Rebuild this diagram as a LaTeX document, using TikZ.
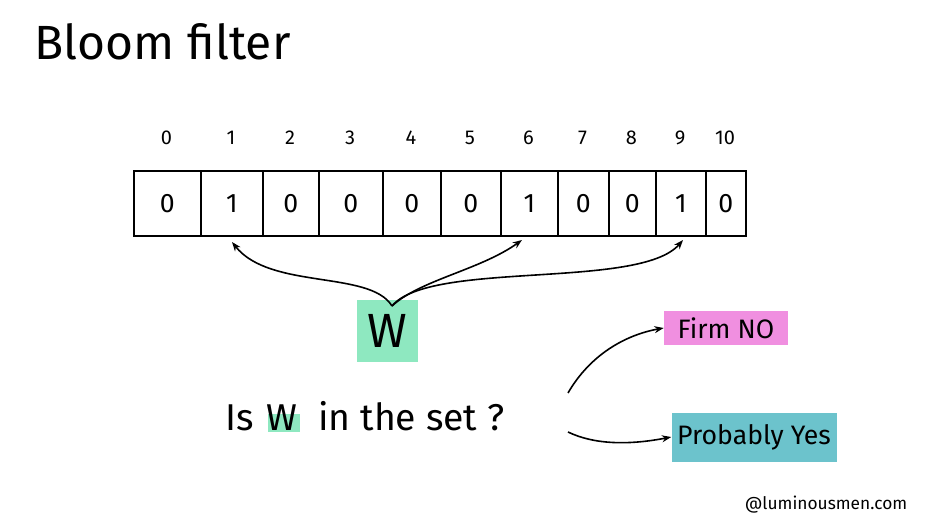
\documentclass[tikz,border=0pt]{standalone}
\usepackage{fontspec}
\setmainfont{Fira Sans}
\usetikzlibrary{arrows.meta}
\definecolor{wgreen}{HTML}{8EE8C0}
\definecolor{pinkc}{HTML}{F08FE0}
\definecolor{tealc}{HTML}{6CC3CC}
\tikzset{
 cell/.style={draw=black,line width=1.3pt,minimum height=48.75pt,inner sep=0pt,anchor=north west,font=\fontsize{20}{22}\selectfont},
 idx/.style={font=\fontsize{15}{17}\selectfont},
 arr/.style={line width=1.2pt,-{Stealth[length=7pt]}},
 qtext/.style={anchor=base west,inner sep=0pt,font=\fontsize{28}{30}\selectfont},
}
\begin{document}
\begin{tikzpicture}[x=0.75pt,y=-0.75pt]
\useasboundingbox (0,0) rectangle (928,527);
\node[anchor=west,font=\fontsize{36}{40}\selectfont] (title) at (30,42) {Bloom filter};
\foreach \l/\r/\v/\i [count=\n from 0] in {133/200/0/0,200/262/1/1,262/318/0/2,318/382/0/3,382/440/0/4,440/500/0/5,500/557/1/6,557/608/0/7,608/655/0/8,655/705/1/9,705/745/0/10}{
  \pgfmathsetmacro{\w}{(\r-\l)*0.75}
  \node[cell,minimum width=\w pt] (c\n) at (\l,170) {\v};
  \node[idx] (i\n) at ({(\l+\r)/2},138) {\i};
}
\node[fill=wgreen,minimum width=45.75pt,minimum height=46.5pt,font=\fontsize{36}{38}\selectfont] (w) at (387,331) {W};
\coordinate (wt) at (392,306);
\draw[arr] (wt) .. controls (370,270) and (270,290) .. (232,242);
\draw[arr] (wt) .. controls (420,280) and (480,270) .. (522,240);
\draw[arr] (wt) .. controls (430,260) and (640,290) .. (683,240);
\fill[wgreen] (268,414) rectangle (300,432);
\node[qtext] (q1t) at (225,430) {Is};
\node[qtext] (qw) at (266,430) {W};
\node[qtext] (q2t) at (318,430) {in the set ?};
\node[fill=pinkc,minimum width=93pt,minimum height=24.75pt,font=\fontsize{20}{22}\selectfont] (no) at (726,328) {Firm NO};
\node[fill=tealc,minimum width=123.75pt,minimum height=36.75pt,font=\fontsize{20}{22}\selectfont] (yes) at (754,437) {Probably Yes};
\coordinate (q1) at (568,393);
\coordinate (q2) at (568,432);
\draw[arr] (q1) .. controls (590,355) and (625,335) .. (no.west);
\draw[arr] (q2) .. controls (595,445) and (630,445) .. (yes.west);
\node[font=\fontsize{13}{15}\selectfont] (cr) at (826,505) {@luminousmen.com};
\end{tikzpicture}
\end{document}
